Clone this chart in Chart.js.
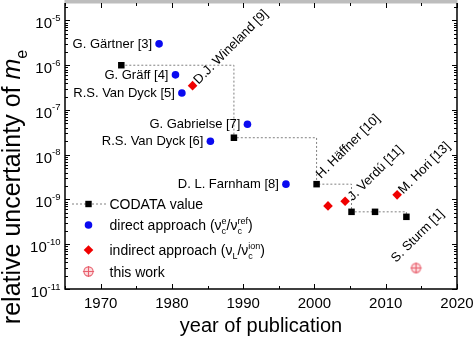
<!DOCTYPE html>
<html>
<head>
<meta charset="utf-8">
<script src="https://cdn.jsdelivr.net/npm/chart.js@4/dist/chart.umd.min.js"></script>
<style>
  html, body { margin: 0; padding: 0; background: #fff; }
  canvas { display: block; }
</style>
</head>
<body>
<canvas id="chart" width="474" height="338"></canvas>
<script>
// Electron mass determinations: relative uncertainty vs. year of publication
const codataYears  = [1972.9, 1988.7, 2000.3, 2005.2, 2008.5, 2012.9];
const codataValues = [1.0e-6, 2.4e-8, 2.2e-9, 5.3e-10, 5.3e-10, 4.1e-10];

const directYears  = [1978.2, 1980.5, 1981.4, 1985.4, 1990.6, 1996.0];
const directValues = [3.0e-6, 6.1e-7, 2.4e-7, 2.0e-8, 4.8e-8, 2.2e-9];
const directNames  = ['G. Gärtner [3]', 'G. Gräff [4]', 'R.S. Van Dyck [5]',
                      'R.S. Van Dyck [6]', 'G. Gabrielse [7]', 'D. L. Farnham [8]'];

const indirectYears  = [1982.9, 2001.9, 2004.3, 2011.6];
const indirectValues = [3.5e-7, 7.2e-10, 9.1e-10, 1.27e-9];
const indirectNames  = ['D.J. Wineland [9]', 'H. Häffner [10]', 'J. Verdú [11]', 'M. Hori [13]'];

const thisWorkYears  = [2014.25];
const thisWorkValues = [2.95e-11];
const thisWorkNames  = ['S. Sturm [1]'];

const xTickYears  = [1970, 1980, 1990, 2000, 2010, 2020];
const xTickLabels = ['1970', '1980', '1990', '2000', '2010', '2020'];
const yTickExponents = [-5, -6, -7, -8, -9, -10, -11];

const legendLabels = ['CODATA value', 'direct approach', 'indirect approach', 'this work'];

const FONT = '"Liberation Sans", Arial, Helvetica, sans-serif';
const BLUE = '#0a0af0';
const RED = '#f00000';
const DASH_GREY = '#808080';

// offsets (px) of the rotated name tags relative to their marker
const indirectLabelOffsets = [[3.5, -3.5], [-9.5, -29.5], [5, -2.6], [3.6, -2.8]];
const thisWorkLabelOffsets = [[-22.5, -7.5]];

function pairs(xs, ys) { return xs.map((x, i) => ({ x: x, y: ys[i] })); }

// circle with cross-hair marker
function makeCrossCircle() {
  const c = document.createElement('canvas');
  c.width = 13; c.height = 13;
  const g = c.getContext('2d');
  const cx = 6.5, cy = 6.5, r = 4.6;
  g.fillStyle = 'rgba(248,175,180,0.45)';
  g.beginPath(); g.arc(cx, cy, r, 0, Math.PI * 2); g.fill();
  g.strokeStyle = '#e8606e'; g.lineWidth = 1.1;
  g.beginPath(); g.arc(cx, cy, r, 0, Math.PI * 2); g.stroke();
  g.beginPath();
  g.moveTo(cx - r - 1, cy); g.lineTo(cx + r + 1, cy);
  g.moveTo(cx, cy - r - 1); g.lineTo(cx, cy + r + 1);
  g.stroke();
  return c;
}
const crossCircle = makeCrossCircle();

// draws text made of runs, with optional stacked sub/superscripts
function drawRich(ctx, x, y, parts, size) {
  ctx.textBaseline = 'alphabetic';
  ctx.textAlign = 'left';
  let cx = x;
  for (const p of parts) {
    if (p.t !== undefined) {
      ctx.font = (p.italic ? 'italic ' : '') + size + 'px ' + FONT;
      ctx.fillText(p.t, cx, y);
      cx += ctx.measureText(p.t).width;
    } else {
      const s = Math.round(size * 0.64);
      ctx.font = s + 'px ' + FONT;
      let w = 0;
      if (p.sub) { ctx.fillText(p.sub, cx, y + size * 0.28); w = Math.max(w, ctx.measureText(p.sub).width); }
      if (p.sup) { ctx.fillText(p.sup, cx, y - size * 0.42); w = Math.max(w, ctx.measureText(p.sup).width); }
      cx += w;
    }
  }
  return cx - x;
}
function measureRich(ctx, parts, size) {
  let w = 0;
  for (const p of parts) {
    if (p.t !== undefined) {
      ctx.font = (p.italic ? 'italic ' : '') + size + 'px ' + FONT;
      w += ctx.measureText(p.t).width;
    } else {
      ctx.font = Math.round(size * 0.64) + 'px ' + FONT;
      w += Math.max(p.sub ? ctx.measureText(p.sub).width : 0, p.sup ? ctx.measureText(p.sup).width : 0);
    }
  }
  return w;
}

const framePlugin = {
  id: 'frame',
  afterDatasetsDraw(chart) {
    const ctx = chart.ctx;
    const a = chart.chartArea;
    const xs = chart.scales.x, ys = chart.scales.y;
    ctx.save();

    // name tags next to the markers
    ctx.fillStyle = '#000';
    ctx.font = '13px ' + FONT;
    ctx.textBaseline = 'middle';
    ctx.textAlign = 'right';
    chart.getDatasetMeta(1).data.forEach((pt, i) => {
      ctx.fillText(directNames[i], pt.x - 7, pt.y + 0.5);
    });
    ctx.textAlign = 'left';
    const rotated = (meta, names, offs) => {
      meta.data.forEach((pt, i) => {
        ctx.save();
        ctx.translate(pt.x + offs[i][0], pt.y + offs[i][1]);
        ctx.rotate(-Math.PI / 4);
        ctx.fillText(names[i], 0, 0);
        ctx.restore();
      });
    };
    rotated(chart.getDatasetMeta(2), indirectNames, indirectLabelOffsets);
    rotated(chart.getDatasetMeta(3), thisWorkNames, thisWorkLabelOffsets);

    // frame
    ctx.fillStyle = '#bdbdbd';
    ctx.fillRect(a.left - 0.5, 0, a.right - a.left + 1, 3.5);
    ctx.strokeStyle = '#000';
    ctx.lineWidth = 1.5;
    ctx.beginPath();
    ctx.moveTo(a.left, 3); ctx.lineTo(a.left, a.bottom); ctx.lineTo(a.right, a.bottom); ctx.lineTo(a.right, 3);
    ctx.stroke();

    // inward ticks
    ctx.lineWidth = 1;
    ctx.beginPath();
    for (let yr = 1965; yr <= 2020; yr += 5) {
      const px = Math.round(xs.getPixelForValue(yr)) + 0.5;
      const len = yr % 10 === 0 ? 5 : 3;
      ctx.moveTo(px, a.bottom); ctx.lineTo(px, a.bottom - len);
      ctx.moveTo(px, 3); ctx.lineTo(px, 3 + len);
    }
    for (let e = -11; e <= -5; e++) {
      for (let m = 1; m <= 9; m++) {
        const v = m * Math.pow(10, e);
        if (v > ys.max) break;
        const py = Math.round(ys.getPixelForValue(v)) + 0.5;
        if (py < 4) continue;
        const len = m === 1 ? 5 : 3;
        ctx.moveTo(a.left, py); ctx.lineTo(a.left + len, py);
        ctx.moveTo(a.right, py); ctx.lineTo(a.right - len, py);
      }
    }
    ctx.stroke();

    // x tick labels
    ctx.fillStyle = '#000';
    ctx.font = '15px ' + FONT;
    ctx.textAlign = 'center';
    ctx.textBaseline = 'alphabetic';
    xTickYears.forEach((yr, i) => {
      ctx.fillText(xTickLabels[i], xs.getPixelForValue(yr), 308);
    });

    // y tick labels 10^n
    yTickExponents.forEach(e => {
      const py = ys.getPixelForValue(Math.pow(10, e));
      const sup = String(e);
      ctx.font = '9.5px ' + FONT;
      const ws = ctx.measureText(sup).width;
      ctx.font = '15px ' + FONT;
      const wb = ctx.measureText('10').width;
      ctx.textAlign = 'left';
      ctx.fillText('10', 60.5 - ws - wb, py + 7.8);
      ctx.font = '9.5px ' + FONT;
      ctx.fillText(sup, 60.5 - ws, py + 0.5);
    });

    // axis titles
    ctx.font = '20px ' + FONT;
    ctx.textAlign = 'center';
    ctx.fillText('year of publication', (a.left + a.right) / 2, 332);

    const yTitle = [{ t: 'relative uncertainty of ' }, { t: 'm', italic: true }, { sub: 'e' }];
    ctx.save();
    ctx.translate(19.5, 187);
    ctx.rotate(-Math.PI / 2);
    const wt = measureRich(ctx, yTitle, 25);
    drawRich(ctx, -wt / 2, 0, yTitle, 25);
    ctx.restore();

    // legend
    const lx = 88.5, tx = 109.5;
    const rows = [204, 225, 250, 271.5];
    ctx.strokeStyle = DASH_GREY; ctx.lineWidth = 1; ctx.setLineDash([2, 2]);
    ctx.beginPath(); ctx.moveTo(72, rows[0]); ctx.lineTo(106, rows[0]); ctx.stroke();
    ctx.setLineDash([]);
    ctx.fillStyle = '#000';
    ctx.fillRect(lx - 3.2, rows[0] - 3.2, 6.4, 6.4);
    ctx.fillStyle = BLUE;
    ctx.beginPath(); ctx.arc(lx, rows[1], 3.8, 0, Math.PI * 2); ctx.fill();
    ctx.fillStyle = RED;
    ctx.beginPath();
    ctx.moveTo(lx, rows[2] - 4.8); ctx.lineTo(lx + 4.8, rows[2]); ctx.lineTo(lx, rows[2] + 4.8); ctx.lineTo(lx - 4.8, rows[2]);
    ctx.closePath(); ctx.fill();
    ctx.drawImage(crossCircle, lx - 6.5, rows[3] - 6.5);

    ctx.fillStyle = '#000';
    const base = 5;
    drawRich(ctx, tx, rows[0] + base, [{ t: legendLabels[0] }], 14);
    drawRich(ctx, tx, rows[1] + base, [{ t: legendLabels[1] + ' (ν' }, { sub: 'c', sup: 'e' }, { t: '/ν' }, { sub: 'c', sup: 'ref' }, { t: ')' }], 14);
    drawRich(ctx, tx, rows[2] + base, [{ t: legendLabels[2] + ' (ν' }, { sub: 'L' }, { t: '/ν' }, { sub: 'c', sup: 'ion' }, { t: ')' }], 14);
    drawRich(ctx, tx, rows[3] + base, [{ t: legendLabels[3] }], 14);

    ctx.restore();
  }
};

new Chart(document.getElementById('chart'), {
  type: 'scatter',
  data: {
    datasets: [
      {
        label: legendLabels[0],
        data: pairs(codataYears, codataValues),
        showLine: true,
        stepped: 'before',
        borderColor: DASH_GREY,
        borderWidth: 1,
        borderDash: [2, 2],
        pointStyle: 'rect',
        pointRadius: 4.6,
        pointBackgroundColor: '#000',
        pointBorderColor: '#000',
        pointBorderWidth: 0
      },
      {
        label: legendLabels[1],
        data: pairs(directYears, directValues),
        pointStyle: 'circle',
        pointRadius: 3.8,
        pointBackgroundColor: BLUE,
        pointBorderWidth: 0
      },
      {
        label: legendLabels[2],
        data: pairs(indirectYears, indirectValues),
        pointStyle: 'rectRot',
        pointRadius: 4.8,
        pointBackgroundColor: RED,
        pointBorderWidth: 0
      },
      {
        label: legendLabels[3],
        data: pairs(thisWorkYears, thisWorkValues),
        pointStyle: crossCircle,
        pointRadius: 6
      }
    ]
  },
  options: {
    responsive: false,
    animation: false,
    layout: { padding: { left: 65, right: 17, top: 1, bottom: 49 } },
    scales: {
      x: { type: 'linear', min: 1965, max: 2020, display: false },
      y: { type: 'logarithmic', min: 1e-11, max: 2e-5, display: false }
    },
    plugins: { legend: { display: false }, tooltip: { enabled: false } }
  },
  plugins: [framePlugin]
});
</script>
</body>
</html>
